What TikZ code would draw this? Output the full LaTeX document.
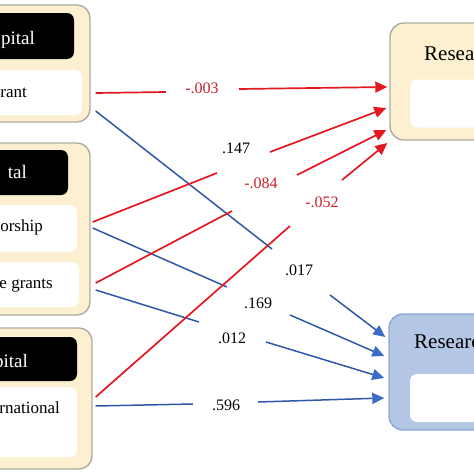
\documentclass[tikz,border=0pt]{standalone}
\usepackage{fontspec}
\setmainfont{Liberation Serif}
\usetikzlibrary{arrows.meta,calc}
\definecolor{cream}{HTML}{FDF0D0}
\definecolor{creamedge}{HTML}{AEABA3}
\definecolor{bluefill}{HTML}{B4C7E7}
\definecolor{blueedge}{HTML}{8EA6CF}
\definecolor{redline}{HTML}{E3191F}
\definecolor{redtext}{HTML}{CC1F2A}
\definecolor{blueline}{HTML}{2F57A8}
\definecolor{bluetip}{HTML}{3C6CC8}
\begin{document}
\begin{tikzpicture}[x=1pt,y=-1pt,
  outerbox/.style={draw=creamedge, line width=1.4pt, fill=cream, rounded corners=13pt, inner sep=0pt},
  bluebox/.style={draw=blueedge, line width=1.4pt, fill=bluefill, rounded corners=14pt, inner sep=0pt},
  headbox/.style={fill=black, rounded corners=7pt, inner sep=0pt},
  whitebox/.style={fill=white, rounded corners=7pt, inner sep=0pt},
  hdtext/.style={text=white, font=\fontsize{19}{22}\selectfont, inner sep=0pt},
  bodytext/.style={text=black, font=\fontsize{17}{20}\selectfont, inner sep=0pt},
  restext/.style={text=black, font=\fontsize{21}{24}\selectfont, inner sep=0pt},
  redpath/.style={draw=redline, line width=1.7pt},
  bluepath/.style={draw=blueline, line width=1.5pt},
  redtip/.style={-{Triangle[length=12pt,width=11pt,color=redline]}},
  bluetipstyle/.style={-{Triangle[length=12pt,width=11pt,color=bluetip]}},
  redlab/.style={text=redtext, font=\fontsize{16}{19}\selectfont, inner sep=0pt},
  blacklab/.style={text=black, font=\fontsize{16}{19}\selectfont, inner sep=0pt}
]
\useasboundingbox (0,0) rectangle (474,474);
\clip (0,0) rectangle (474,474);

% ---- left group 1
\node[outerbox, minimum width=110pt, minimum height=117pt] (grp1) at (35,63.5) {};
\node[headbox, minimum width=94pt, minimum height=46pt] (hd1) at (27,36) {};
\node[whitebox, minimum width=102pt, minimum height=45pt] (grant) at (31,92.5) {};
\node[hdtext, anchor=base east] (hd1t) at (35,44) {pital};
\node[bodytext, anchor=base east] (grantt) at (27,97) {rant};

% ---- left group 2
\node[outerbox, minimum width=110pt, minimum height=172pt] (grp2) at (35,229) {};
\node[headbox, minimum width=88pt, minimum height=45pt] (hd2) at (24,172.5) {};
\node[whitebox, minimum width=97pt, minimum height=47pt] (spons) at (28.5,228.5) {};
\node[whitebox, minimum width=99pt, minimum height=45pt] (grants) at (29.5,284.5) {};
\node[hdtext, anchor=base east] (hd2t) at (27,178) {tal};
\node[bodytext, anchor=base east] (sponst) at (43,231) {orship};
\node[bodytext, anchor=base east] (grantst) at (53,288) {e grants};

% ---- left group 3
\node[outerbox, minimum width=112pt, minimum height=141pt] (grp3) at (36,398.5) {};
\node[headbox, minimum width=97pt, minimum height=44pt] (hd3) at (28.5,359) {};
\node[whitebox, minimum width=97pt, minimum height=70pt] (intl) at (28.5,422) {};
\node[hdtext, anchor=base east] (hd3t) at (28,367) {pital};
\node[bodytext, anchor=base east] (intlt) at (60,413) {rnational};

% ---- right boxes
\node[outerbox, rounded corners=14pt, minimum width=110pt, minimum height=117pt] (res1) at (445,81.5) {};
\node[whitebox, minimum width=90pt, minimum height=48pt] (res1in) at (455,103.5) {};
\node[restext, anchor=base west] (res1t) at (424,60) {Resea};

\node[bluebox, minimum width=111pt, minimum height=116pt] (res2) at (444.5,372) {};
\node[whitebox, minimum width=90pt, minimum height=48pt] (res2in) at (455,398) {};
\node[restext, anchor=base west] (res2t) at (414,348) {Researc};

% ---- connector coordinates
\coordinate (ra0) at ($(grp1.east |- 0,93)+(5,0)$);
\coordinate (ra1) at (166,92);
\coordinate (ra2) at (239,89);
\coordinate (ra3) at ($(res1.west |- 0,87)+(-2,0)$);

\coordinate (rb0) at ($(grp2.east |- 0,222)+(2,0)$);
\coordinate (rb1) at (217,173);
\coordinate (rb2) at (270,152);
\coordinate (rb3) at ($(res1.west |- 0,108)+(-3,0)$);

\coordinate (rc0) at ($(grp2.east |- 0,283)+(5,0)$);
\coordinate (rc1) at (232,211);
\coordinate (rc2) at (297,175);
\coordinate (rc3) at ($(res1.west |- 0,130)+(-3,0)$);

\coordinate (rd0) at ($(grp3.east |- 0,397)+(3,0)$);
\coordinate (rd1) at (290,226);
\coordinate (rd2) at (342,180);
\coordinate (rd3) at ($(res1.west |- 0,143)+(-2,0)$);

\coordinate (ba0) at ($(grp1.east |- 0,111)+(5,0)$);
\coordinate (ba1) at (272,249);
\coordinate (ba2) at (330,295);
\coordinate (ba3) at ($(res2.west |- 0,337)+(-3,0)$);

\coordinate (bb0) at ($(grp2.east |- 0,228)+(2,0)$);
\coordinate (bb1) at (227,287);
\coordinate (bb2) at (290,315);
\coordinate (bb3) at ($(res2.west |- 0,356)+(-4,0)$);

\coordinate (bc0) at ($(grp2.east |- 0,290)+(5,0)$);
\coordinate (bc1) at (199,322);
\coordinate (bc2) at (266,342);
\coordinate (bc3) at ($(res2.west |- 0,378)+(-4,0)$);

\coordinate (bd0) at ($(grp3.east |- 0,406)+(3,0)$);
\coordinate (bd1) at (193,404);
\coordinate (bd2) at (258,402);
\coordinate (bd3) at ($(res2.west |- 0,398)+(-4,0)$);

% ---- blue connectors
\draw[bluepath] (ba0) -- (ba1);
\draw[bluepath, bluetipstyle] (ba2) -- (ba3);
\draw[bluepath] (bb0) -- (bb1);
\draw[bluepath, bluetipstyle] (bb2) -- (bb3);
\draw[bluepath] (bc0) -- (bc1);
\draw[bluepath, bluetipstyle] (bc2) -- (bc3);
\draw[bluepath] (bd0) -- (bd1);
\draw[bluepath, bluetipstyle] (bd2) -- (bd3);

% ---- red connectors
\draw[redpath] (ra0) -- (ra1);
\draw[redpath, redtip] (ra2) -- (ra3);
\draw[redpath] (rb0) -- (rb1);
\draw[redpath, redtip] (rb2) -- (rb3);
\draw[redpath] (rc0) -- (rc1);
\draw[redpath, redtip] (rc2) -- (rc3);
\draw[redpath] (rd0) -- (rd1);
\draw[redpath, redtip] (rd2) -- (rd3);

% ---- labels
\node[redlab] (la) at (202,88) {-.003};
\node[blacklab] (lb) at (236,148) {.147};
\node[redlab] (lc) at (261,183) {-.084};
\node[redlab] (ld) at (322,202) {-.052};
\node[blacklab] (le) at (299,270) {.017};
\node[blacklab] (lf) at (258,303) {.169};
\node[blacklab] (lg) at (232,338) {.012};
\node[blacklab] (lh) at (226,405) {.596};
\end{tikzpicture}
\end{document}
